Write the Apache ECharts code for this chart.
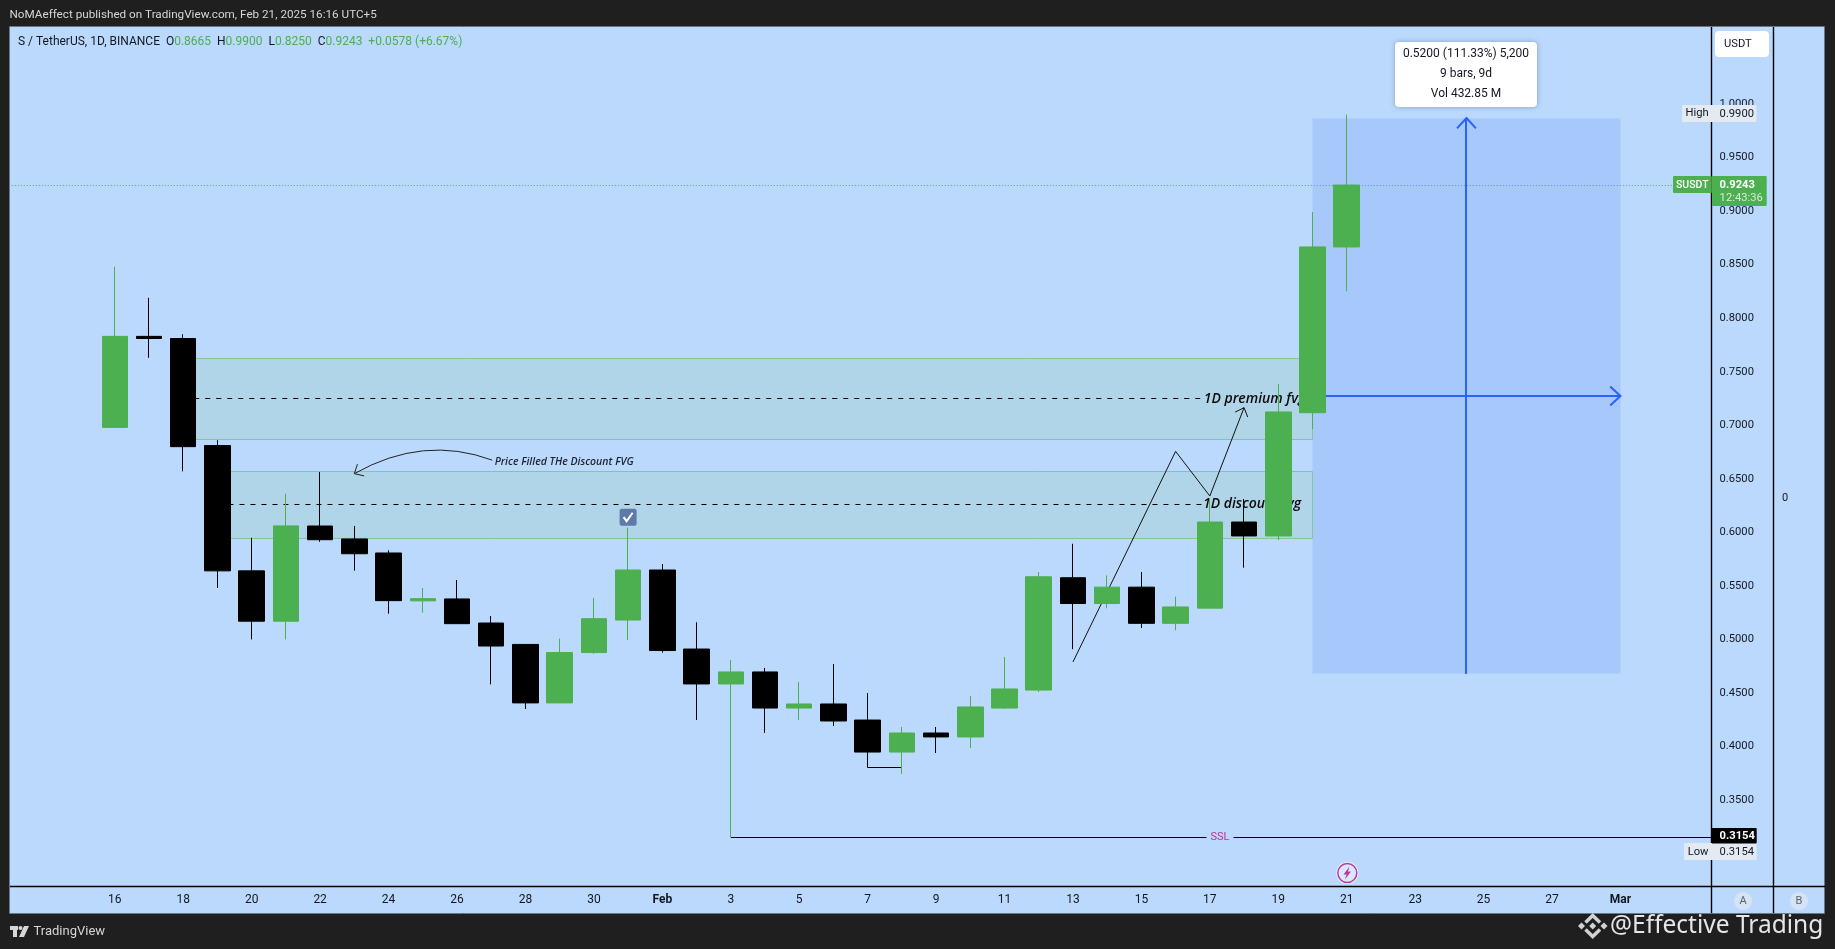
<!DOCTYPE html>
<html><head><meta charset="utf-8">
<style>html,body{margin:0;padding:0;background:#1f1f1f}#c{width:1835px;height:949px}</style>
<script src="https://cdn.jsdelivr.net/npm/echarts@6/dist/echarts.min.js"></script></head>
<body><div id="c"></div>
<script>
// ---- data ----
const dates = ['Jan 16','Jan 17','Jan 18','Jan 19','Jan 20','Jan 21','Jan 22','Jan 23','Jan 24','Jan 25','Jan 26','Jan 27','Jan 28','Jan 29','Jan 30','Jan 31','Feb 1','Feb 2','Feb 3','Feb 4','Feb 5','Feb 6','Feb 7','Feb 8','Feb 9','Feb 10','Feb 11','Feb 12','Feb 13','Feb 14','Feb 15','Feb 16','Feb 17','Feb 18','Feb 19','Feb 20','Feb 21'];
const opens  = [.698,.783,.781,.681,.564,.517,.6059,.5938,.5807,.536,.5378,.5153,.4953,.4407,.4877,.5181,.5648,.491,.4584,.4696,.4359,.4397,.4247,.3948,.4126,.4089,.4359,.4527,.5576,.5335,.5488,.515,.5292,.6096,.5966,.7117,.8665];
const closes = [.783,.781,.680,.564,.517,.606,.5931,.580,.5362,.538,.5147,.4938,.4407,.4877,.5193,.5648,.4896,.4584,.4696,.4359,.4397,.4238,.3948,.4126,.4089,.4369,.4537,.5585,.5335,.5488,.515,.5303,.6096,.5966,.7124,.8665,.9243];
const lows   = [.698,.763,.657,.548,.500,.500,.5912,.5642,.524,.525,.5147,.458,.435,.4407,.4866,.4994,.4877,.4247,.3154,.4126,.4247,.4191,.381,.3743,.3939,.3986,.435,.4509,.4909,.529,.5106,.5084,.5292,.567,.5928,.6965,.825];
const highs  = [.848,.819,.785,.686,.595,.636,.6563,.6059,.5832,.548,.5555,.5219,.4953,.5008,.5387,.6043,.5704,.516,.4808,.4733,.4602,.477,.4499,.4182,.4182,.4471,.4836,.563,.5893,.5598,.563,.54,.631,.6311,.7385,.8991,.99];
const axisDays = ['Jan 14','Jan 15'].concat(dates,['Feb 22','Feb 23','Feb 24','Feb 25','Feb 26','Feb 27','Feb 28','Mar 1','Mar 2','Mar 3']);
const lastPrice = 0.9243, sslPrice = 0.3154;
// annotations, x in bars counted from Jan 16, y in price
const premiumZone = [2, 35, .7625, .6871, .7248];
const discountZone = [3, 35, .6570, .5944, .6262];
const measureBox = [35, 44, .9869, .4677];
const measureCentre = [39.5, .7273];
const swingPath = [[28,.4789],[31,.6756],[32,.6339],[33,.7164]];
const lowBracket = [[22,.4],[22,.3808],[23,.3808]];
const filledCurve = [[11.03,.6674],[9.02,.6912],[7.0,.6548]];
const headerText = 'NoMAeffect published on TradingView.com, Feb 21, 2025 16:16 UTC+5';

const UI = 'Roboto, "Liberation Sans", sans-serif';
const GREEN = '#4caf50', INK = '#131722', BLUE = '#2962ff', ZONE = '#b0d5e8', ZLINE = '#7cc99a';

function head(tip, ang, len, col, w){
  const a1 = ang + 2.4, a2 = ang - 2.4;
  return {type:'polyline', shape:{points:[[tip[0]+len*Math.cos(a1),tip[1]+len*Math.sin(a1)],tip,[tip[0]+len*Math.cos(a2),tip[1]+len*Math.sin(a2)]]},
    style:{fill:null,stroke:col,lineWidth:w}};
}
const snap=v=>Math.round(v-0.5)+0.5;
function renderNotes(params, api){
  const c = (x,y)=>api.coord([x,y]);
  const kids = [];
  const rect = (x0,x1,top,bot,style)=>{const a=c(x0,top),b=c(x1,bot);const X=snap(a[0]),Y=snap(a[1]);kids.push({type:'rect',shape:{x:X,y:Y,width:snap(b[0])-X,height:snap(b[1])-Y},style});};
  const line = (p,q,stroke,w,dash)=>{
    let [x1,y1,x2,y2]=[p[0],p[1],q[0],q[1]];
    if(w<=1.5){ if(y1===y2){y1=y2=snap(y1);} if(x1===x2){x1=x2=snap(x1);} }
    else { if(y1===y2){y1=y2=Math.round(y1);} if(x1===x2){x1=x2=Math.round(x1);} }
    kids.push({type:'line',shape:{x1,y1,x2,y2},style:{stroke,lineWidth:w,lineDash:dash||null}});
  };
  const zone = (z,endMid)=>{
    rect(z[0],z[1],z[2],z[3],{fill:ZONE,stroke:ZLINE,lineWidth:1});
    line(c(z[0],z[4]),c(endMid,z[4]),'#000',1,[5,6]);
  };
  rect(measureBox[0],measureBox[1],measureBox[2],measureBox[3],{fill:'#a6c8fb'});
  zone(premiumZone,31.82); zone(discountZone,31.8);
  // price line
  line(c(-4.5,lastPrice),c(45.5,lastPrice),GREEN,1,[1,2]);
  // measure arrows
  const up=c(measureCentre[0],measureBox[2]), dn=c(measureCentre[0],measureBox[3]);
  line(dn,up,BLUE,2); kids.push(head(up,-Math.PI/2,14,BLUE,2));
  const lf=c(measureBox[0],measureCentre[1]), rt=c(measureBox[1],measureCentre[1]);
  line(lf,rt,BLUE,2); kids.push(head(rt,0,14,BLUE,2));
  // fvg labels
  const fvgLabel=(t,x,y)=>{const p=c(x,y);kids.push({type:'text',x:p[0],y:p[1],style:{text:t,font:'italic 600 14px "Open Sans", sans-serif',fill:'#0b0b0b',align:'left',verticalAlign:'middle'}});};
  fvgLabel('1D premium fvg',31.82,premiumZone[4]);
  fvgLabel('1D discount fvg',31.8,discountZone[4]);
  // swing path
  kids.push({type:'polyline',shape:{points:swingPath.map(p=>c(p[0],p[1]))},style:{fill:null,stroke:'#111',lineWidth:1}});
  const n=swingPath.length, e=c(...swingPath[n-1]), s=c(...swingPath[n-2]);
  kids.push(head(e,Math.atan2(e[1]-s[1],e[0]-s[0]),10,'#111',1));
  kids.push({type:'polyline',shape:{points:lowBracket.map(p=>{const q=c(p[0],p[1]);return [snap(q[0]),snap(q[1])];})},style:{fill:null,stroke:'#000',lineWidth:1}});
  // curved note
  const q=filledCurve.map(p=>c(p[0],p[1]));
  kids.push({type:'bezierCurve',shape:{x1:q[0][0],y1:q[0][1],cpx1:q[1][0],cpy1:q[1][1],x2:q[2][0],y2:q[2][1]},style:{fill:null,stroke:'#222',lineWidth:1}});
  kids.push(head(q[2],Math.atan2(q[2][1]-q[1][1],q[2][0]-q[1][0]),10,'#222',1));
  const tp=c(11.1,.6657);
  kids.push({type:'text',x:tp[0],y:tp[1],style:{text:'Price Filled THe Discount FVG',font:'italic 600 10.5px "Open Sans", sans-serif',fill:'#1c2330',align:'left',verticalAlign:'middle'}});
  // SSL line
  const s0=c(18,sslPrice), s1=c(46.65,sslPrice);
  line(s0,s1,'#000',1.2);
  kids.push({type:'text',x:1220,y:s0[1],style:{text:'SSL',font:'11px '+UI,fill:'#c2318f',align:'center',verticalAlign:'middle',backgroundColor:'#bbd9fc',padding:[1,4]}});
  // check mark badge above Jan 31
  const b=c(15,.6043);
  kids.push({type:'rect',shape:{x:b[0]-8.5,y:b[1]-19,width:17,height:17,r:2},style:{fill:'#5d7aa8'}});
  kids.push({type:'polyline',shape:{points:[[b[0]-4.5,b[1]-10.5],[b[0]-1.5,b[1]-6.5],[b[0]+4.5,b[1]-15]]},style:{fill:null,stroke:'#fff',lineWidth:2}});
  return {type:'group',children:kids};
}

const T=(x,y,text,o={})=>({type:'text',z:60,x,y,style:Object.assign({text,font:'11.2px '+UI,fill:INK,align:'left',verticalAlign:'middle'},o)});
const R=(x,y,w,h,fill,o={})=>({type:'rect',z:o.z||55,shape:{x,y,width:w,height:h,r:o.r||0},style:{fill,stroke:o.stroke||null,lineWidth:o.lw||0,shadowBlur:o.sb||0,shadowColor:o.sc||'transparent'}});
const L=(x1,y1,x2,y2,col='#000',w=1.4)=>({type:'line',z:54,shape:{x1,y1,x2,y2},style:{stroke:col,lineWidth:w}});

const graphics=[
  {type:'rect',z:-1,shape:{x:10,y:27,width:1815,height:886},style:{fill:'#bbd9fc'}},
  // frame
  R(0,0,1835,27,'#1f1f1f',{z:50}),R(0,913,1835,36,'#1f1f1f',{z:50}),R(0,0,10,949,'#1f1f1f',{z:50}),R(1825,0,10,949,'#1f1f1f',{z:50}),
  {type:'rect',z:51,shape:{x:9.5,y:26.5,width:1815,height:887},style:{fill:null,stroke:'#6b7686',lineWidth:1}},
  L(10,886.5,1825,886.5), L(1773.5,27,1773.5,913), L(1711.5,27,1711.5,913),
  T(9.5,15,headerText,{font:'11.7px '+UI,fill:'#d6d6d6'}),
  {type:'text',z:60,x:18,y:42,style:{
    text:'S / TetherUS, 1D, BINANCE  O{g|0.8665}  H{g|0.9900}  L{g|0.8250}  C{g|0.9243}  {g|+0.0578 (+6.67%)}',
    font:'12px '+UI,fill:INK,verticalAlign:'middle',rich:{g:{fill:GREEN,font:'12px '+UI}}}},
  // measure tooltip
  R(1395,42,142,65,'#fff',{r:4,sb:5,sc:'rgba(60,90,140,.45)'}),
  T(1466,53.5,'0.5200 (111.33%) 5,200',{align:'center',font:'12px '+UI}),T(1466,73.5,'9 bars, 9d',{align:'center',font:'12px '+UI}),T(1466,93.5,'Vol 432.85 M',{align:'center',font:'12px '+UI}),
  // USDT
  R(1715,31,54,26,'#fff',{r:4}),T(1724,44.5,'USDT'),
  // High / Low
  R(1682,105,74.5,17,'#e3eaf2',{r:1}),T(1685.5,113,'High'),T(1719.6,114,'0.9900'),
  R(1684,843,72.7,17,'#e3eaf2',{r:1}),T(1687.7,852,'Low'),T(1719.6,852,'0.3154'),
  // last price
  R(1673,176,38.8,17,GREEN,{r:1}),T(1676,185,'SUSDT',{fill:'#fff',font:'500 10.5px '+UI}),
  R(1712,176,54.7,30,GREEN,{r:1}),T(1719.6,185,'0.9243',{fill:'#fff',font:'bold 11.2px '+UI}),T(1719.6,198,'12:43:36',{fill:'#d5ecd6'}),
  // SSL price
  R(1711.5,828,45.2,15.5,'#000',{r:1}),T(1719.6,836.5,'0.3154',{fill:'#fff',font:'bold 11.2px '+UI}),
  // second scale
  T(1785,498,'0',{font:'11px '+UI,align:'center'}),
  {type:'circle',z:55,shape:{cx:1743,cy:901,r:9},style:{fill:'#d5e3f5'}},T(1743,901,'A',{align:'center',font:'11px '+UI,fill:'#5a6472'}),
  {type:'circle',z:55,shape:{cx:1799,cy:901,r:9},style:{fill:'#d5e3f5'}},T(1799,901,'B',{align:'center',font:'11px '+UI,fill:'#5a6472'}),
  // lightning badge
  {type:'circle',z:55,shape:{cx:1347.3,cy:873,r:11},style:{fill:'#f2f6fd'}},
  {type:'circle',z:55,shape:{cx:1347.3,cy:873,r:9.5},style:{fill:'#dbe8fb',stroke:'#b83aa5',lineWidth:1.5}},
  {type:'polygon',z:56,shape:{points:[[1349.5,866.5],[1343.5,874.5],[1346.5,874.5],[1345,879.5],[1351,871.5],[1348,871.5]]},style:{fill:'#b83aa5'}},
  // footer
  T(33.5,932,'TradingView',{font:'13px '+UI,fill:'#d6d6d6'}),
  R(10,926,8,4,'#d6d6d6',{z:60}),R(13,926,4,11,'#d6d6d6',{z:60}),
  {type:'circle',z:60,shape:{cx:20.5,cy:928,r:2},style:{fill:'#d6d6d6'}},
  {type:'polygon',z:60,shape:{points:[[24,926],[29,926],[24,937],[19,937]]},style:{fill:'#d6d6d6'}},
  T(1610,926.5,'@Effective Trading',{font:'24.5px "Noto Sans", sans-serif',fill:'#e6e6e6'}),
];
// Binance-style mark
[[1581.5,926,3.5],[1604,926,3.5],[1592.7,926,3.5]].forEach(d=>{
  graphics.push({type:'polygon',z:60,shape:{points:[[d[0],d[1]-d[2]],[d[0]+d[2],d[1]],[d[0],d[1]+d[2]],[d[0]-d[2],d[1]]]},style:{fill:'#cfd2d6'}});
});
[[[1585.5,922.5],[1592.7,915.5],[1600,922.5]],[[1585.5,929.5],[1592.7,936.5],[1600,929.5]]].forEach(p=>{
  graphics.push({type:'polyline',z:60,shape:{points:p},style:{fill:null,stroke:'#cfd2d6',lineWidth:3.5}});
});

const chart=echarts.init(document.getElementById('c'),null,{renderer:'canvas',width:1835,height:949});
chart.setOption({
  animation:false,backgroundColor:'#1f1f1f',
  grid:{left:29.25,top:50.46,width:1676.78,height:856.64,containLabel:false},
  xAxis:[
    {type:'category',data:axisDays,offset:-20.5,boundaryGap:true,
     axisLine:{show:false},axisTick:{show:false},splitLine:{show:false},
     axisLabel:{margin:7,interval:(i)=>i%2===0&&i>=2&&i<=46,color:INK,fontFamily:'Roboto',fontSize:12,
       rich:{m:{fontWeight:'bold',color:INK,fontFamily:'Roboto',fontSize:12}},
       formatter:v=>v==='Feb 1'?'{m|Feb}':v==='Mar 1'?'{m|Mar}':v.split(' ')[1]}},
    {type:'value',min:-2.5,max:46.5,show:false}
  ],
  yAxis:{type:'value',position:'right',offset:5.5,min:.25,max:1.05,interval:.05,scale:false,
    axisLine:{show:false},axisTick:{show:false},splitLine:{show:false},
    axisLabel:{margin:8,color:INK,fontFamily:'Roboto',fontSize:11.2,
      formatter:v=>(v<.34||v>1.01)?'':v.toFixed(4)}},
  graphic:{elements:graphics},
  series:[
    {type:'custom',xAxisIndex:1,yAxisIndex:0,z:1,silent:true,clip:false,data:[[0,0.5]],renderItem:renderNotes},
    {type:'candlestick',xAxisIndex:0,yAxisIndex:0,z:2,barWidth:26,clip:false,
     itemStyle:{color:GREEN,color0:'#000',borderColor:GREEN,borderColor0:'#000',borderWidth:1},
     data:dates.map((d,i)=>({value:[d,opens[i],closes[i],lows[i],highs[i]]})),
     encode:{x:0,y:[1,2,3,4]}}
  ]
});
</script></body></html>
